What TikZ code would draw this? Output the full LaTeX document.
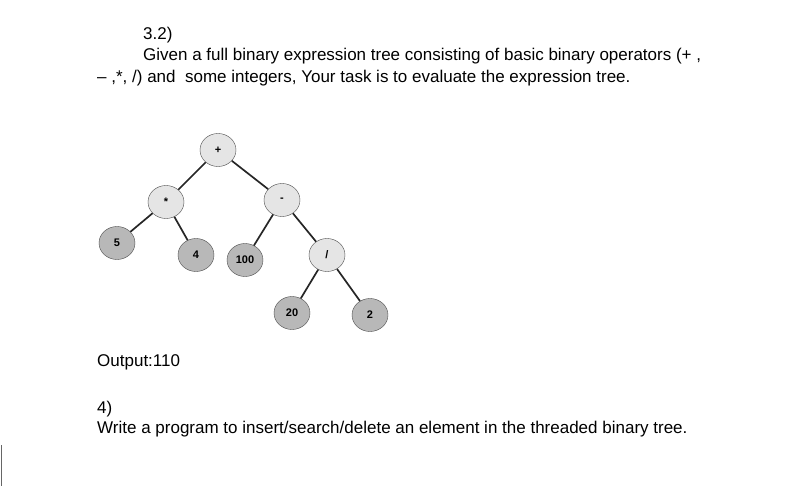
\documentclass[tikz,border=0pt]{standalone}
\usepackage{fontspec}
\setmainfont{Liberation Sans}
\usetikzlibrary{shapes.geometric}
\begin{document}
\begin{tikzpicture}[x=1pt,y=-1pt,
  txt/.style={anchor=base west,inner sep=0pt,font=\fontsize{17}{20}\selectfont},
  op/.style={ellipse,draw=black!70,fill=black!10,minimum width=36pt,minimum height=33pt,inner sep=0pt,font=\fontsize{11}{13}\selectfont\bfseries},
  leaf/.style={op,fill=black!28},
  edge/.style={line width=1.7pt,black!85}]
\useasboundingbox (0,0) rectangle (802,486);
\node[txt] (t1) at (143,40) {3.2)};
\node[txt] (t2) at (143,61) {Given a full binary expression tree consisting of basic binary operators (+ ,};
\node[txt] (t3) at (97,83) {– ,*, /) and\ \ some integers, Your task is to evaluate the expression tree.};
\node[txt] (t4) at (97,366) {Output:110};
\node[txt] (t5) at (97,413) {4)};
\node[txt] (t6) at (97,433) {Write a program to insert/search/delete an element in the threaded binary tree.};
\node[op] (p) at (218,150) {+};
\node[op] (m) at (166,202) {*};
\node[leaf] (n5) at (117,243) {5};
\node[leaf] (n4) at (196,255) {4};
\node[op] (s) at (282,200) {-};
\node[leaf] (n100) at (245,260) {100};
\node[op] (d) at (327,255) {/};
\node[leaf] (n20) at (292,313) {20};
\node[leaf] (n2) at (370,315) {2};
\draw[edge] (p) -- (m); \draw[edge] (p) -- (s);
\draw[edge] (m) -- (n5); \draw[edge] (m) -- (n4);
\draw[edge] (s) -- (n100); \draw[edge] (s) -- (d);
\draw[edge] (d) -- (n20); \draw[edge] (d) -- (n2);
\draw[black!60] (1,445) -- (1,486);
\end{tikzpicture}
\end{document}
